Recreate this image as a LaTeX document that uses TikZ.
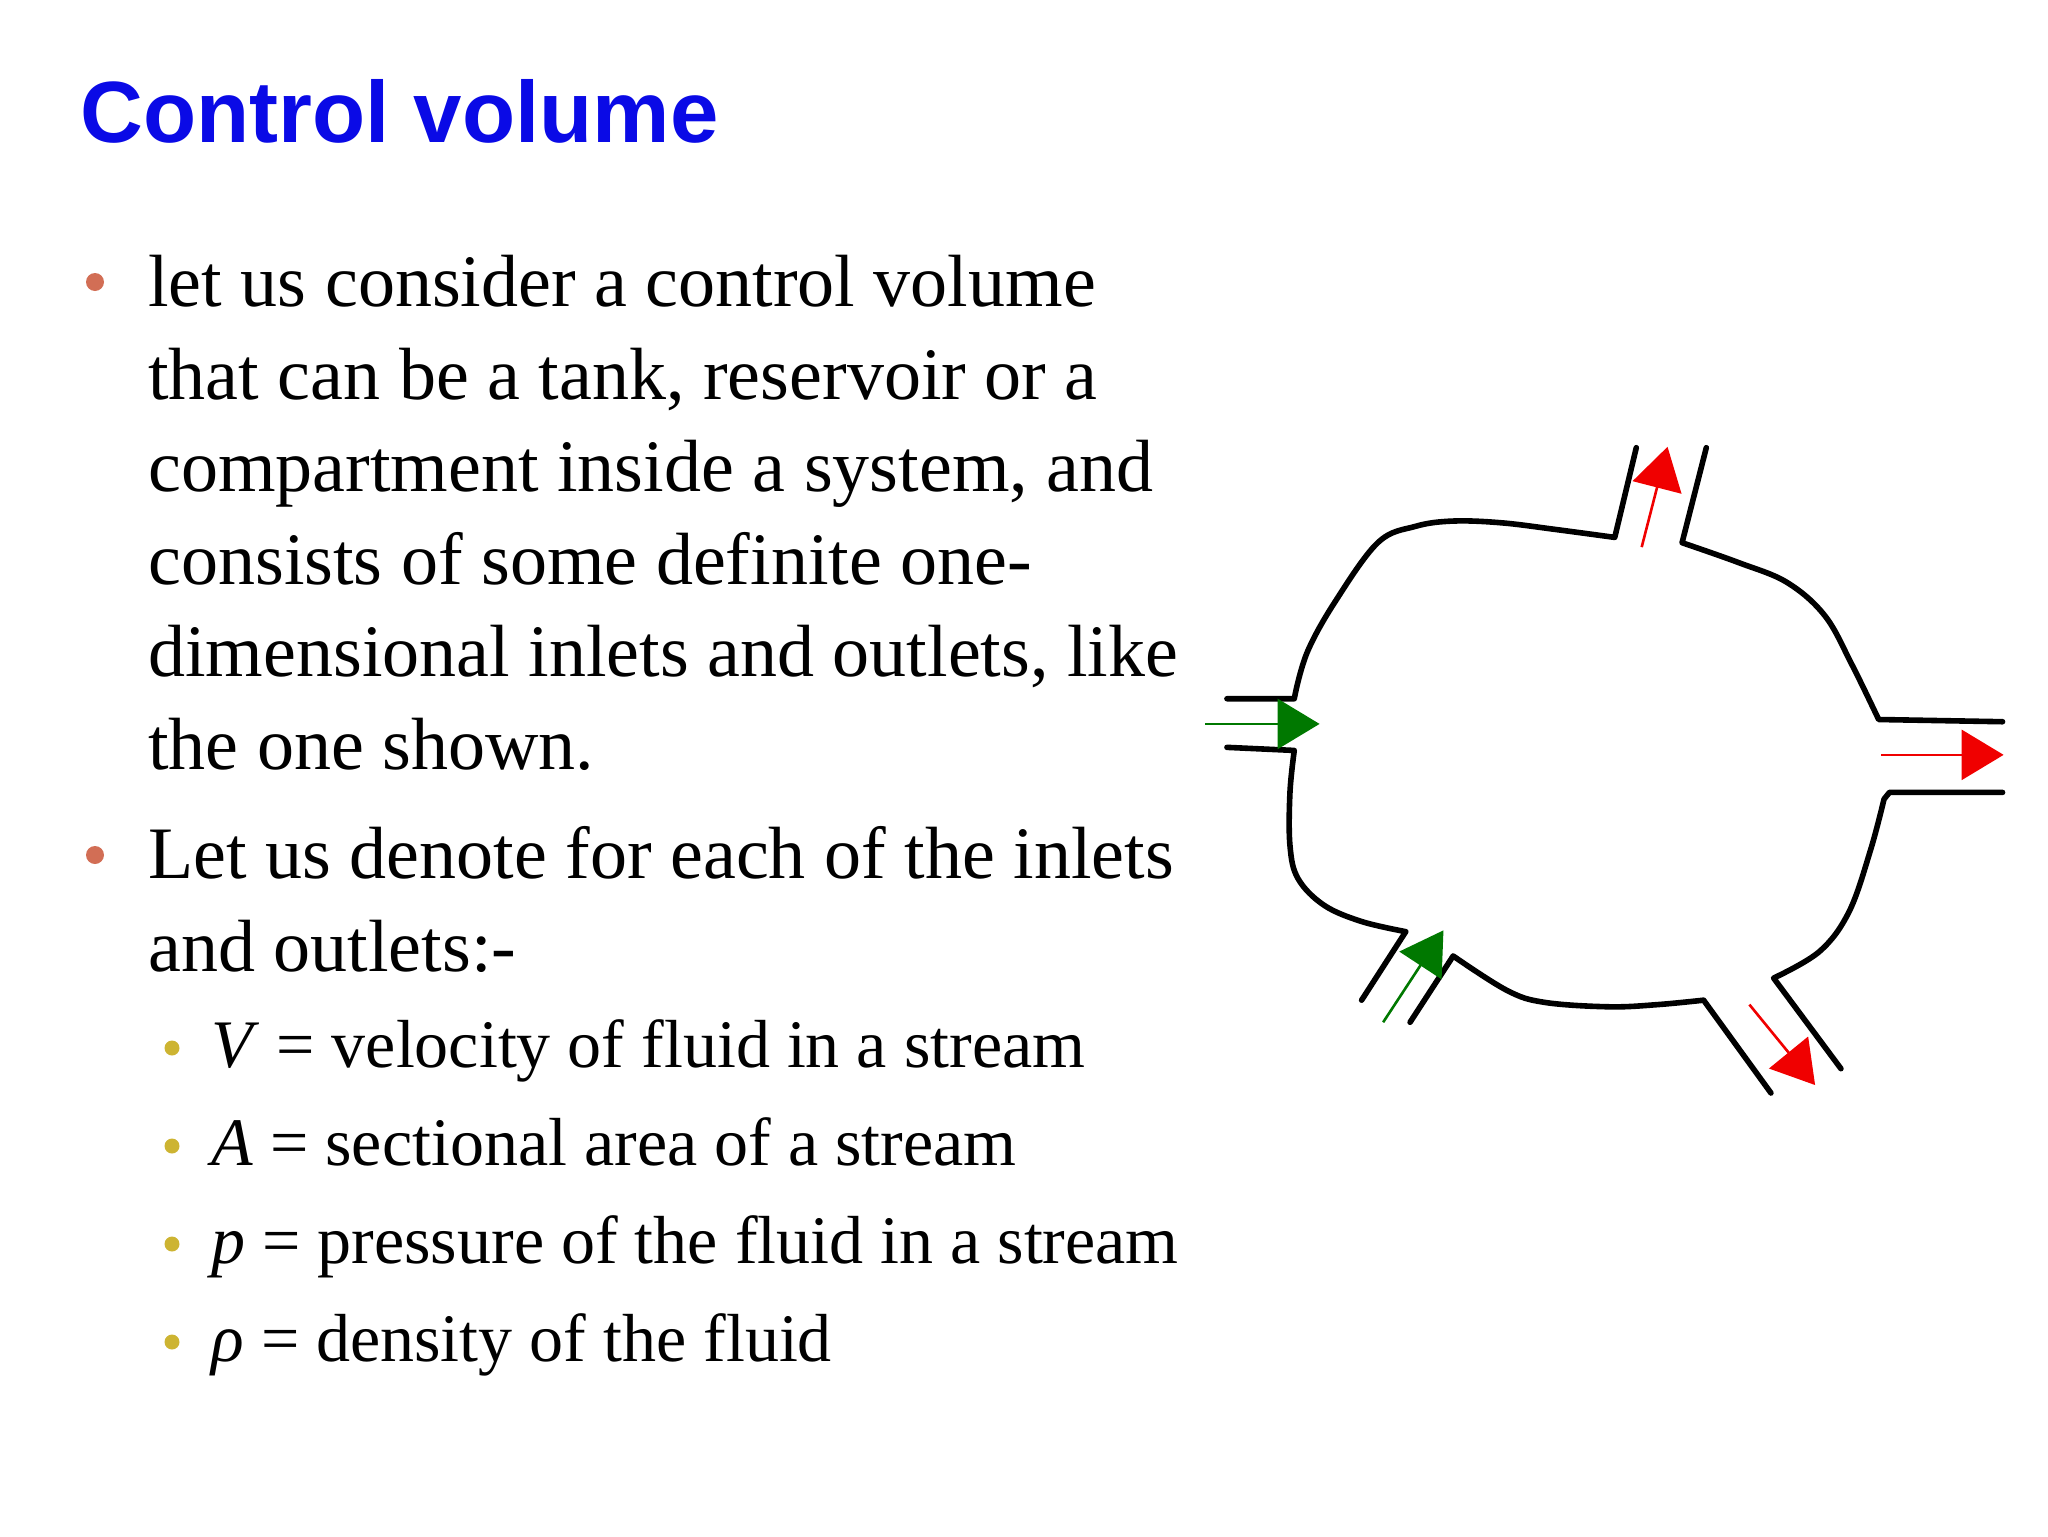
\documentclass[tikz,border=0pt]{standalone}
\usepackage{fontspec}
\setmainfont{Liberation Serif}
\newfontfamily\titlefont{Liberation Sans}
\usetikzlibrary{arrows.meta}
\definecolor{ttl}{RGB}{10,10,230}
\definecolor{bul}{RGB}{210,110,85}
\definecolor{sbul}{RGB}{205,180,50}
\definecolor{grn}{RGB}{0,120,0}
\definecolor{rd}{RGB}{240,0,0}
\tikzset{
  mainline/.style={anchor=base west,inner sep=0pt,font=\fontsize{37}{44}\selectfont},
  subline/.style={anchor=base west,inner sep=0pt,font=\fontsize{34}{40}\selectfont},
  wall/.style={line width=2.8pt,line cap=round,line join=round},
  flow/.style={line width=1.3pt,-{Triangle[length=21pt,width=25pt]}},
}
\begin{document}
\begin{tikzpicture}[x=0.5pt,y=-0.5pt]
\useasboundingbox (0,0) rectangle (2048,1536);
\node[anchor=base west,inner sep=0pt,text=ttl,font=\titlefont\bfseries\fontsize{43.5}{50}\selectfont] (title) at (80,142) {Control volume};
\fill[bul] (95,282) circle (9) (95,855) circle (9);
\node[mainline] (l1) at (148,306) {let us consider a control volume};
\node[mainline] (l2) at (148,399) {that can be a tank, reservoir or a};
\node[mainline] (l3) at (148,491) {compartment inside a system, and};
\node[mainline] (l4) at (148,584) {consists of some definite one-};
\node[mainline] (l5) at (148,676) {dimensional inlets and outlets, like};
\node[mainline] (l6) at (148,769) {the one shown.};
\node[mainline] (l7) at (148,878) {Let us denote for each of the inlets};
\node[mainline] (l8) at (148,971) {and outlets:-};
\fill[sbul] (172,1048) circle (7.5) (172,1146) circle (7.5) (172,1244) circle (7.5) (172,1342) circle (7.5);
\node[subline] (s1) at (211,1067) {\textit{V} = velocity of fluid in a stream};
\node[subline] (s2) at (211,1165) {\textit{A} = sectional area of a stream};
\node[subline] (s3) at (211,1263) {\textit{p} = pressure of the fluid in a stream};
\node[subline] (s4) at (211,1361) {\textit{ρ} = density of the fluid};
\begin{scope}[shift={(1200,430)},x=0.2693pt,y=-0.221pt]
 \draw[wall] (50,608) -- (175,608) -- (178,590) plot[smooth,tension=0.6] coordinates {(178,590) (200,500) (250,390) (330,255) (400,218) (470,206) (560,210) (660,225) (770,243)} -- (810,40);
 \draw[wall] (940,40) -- (895,255) plot[smooth,tension=0.6] coordinates {(895,255) (1000,300) (1090,345) (1160,420) (1210,530) (1260,655)} -- (1490,660);
 \draw[wall] (1490,820) -- (1280,820) -- (1270,835) plot[smooth,tension=0.6] coordinates {(1270,835) (1245,950) (1205,1090) (1150,1180) (1065,1240)} -- (1190,1445);
 \draw[wall] (1060,1500) -- (935,1290) plot[smooth,tension=0.6] coordinates {(935,1290) (850,1300) (760,1305) (640,1295) (570,1268) (470,1190)} -- (390,1340);
 \draw[wall] (300,1290) -- (382,1135) plot[smooth,tension=0.6] coordinates {(382,1135) (300,1112) (230,1075) (182,1015) (167,940) (167,820) (175,725)} -- (50,718);
 \coordinate (gi0) at (10,665); \coordinate (gi1) at (222,665);
 \draw[flow,grn] (gi0) -- (gi1);
 \coordinate (ro0) at (1265,735); \coordinate (ro1) at (1492,735);
 \draw[flow,rd] (ro0) -- (ro1);
 \coordinate (rt0) at (820,265); \coordinate (rt1) at (868,38);
 \draw[flow,rd] (rt0) -- (rt1);
 \coordinate (rb0) at (1020,1300); \coordinate (rb1) at (1142,1482);
 \draw[flow,rd] (rb0) -- (rb1);
 \coordinate (gb0) at (340,1340); \coordinate (gb1) at (452,1132);
 \draw[flow,grn] (gb0) -- (gb1);
\end{scope}
\end{tikzpicture}
\end{document}
